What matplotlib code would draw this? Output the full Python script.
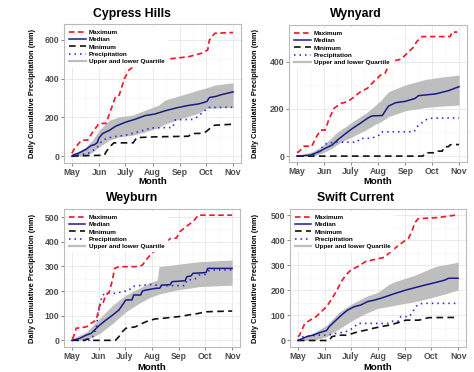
import matplotlib
matplotlib.use("Agg")
import matplotlib.pyplot as plt
from matplotlib.lines import Line2D
import numpy as np

# ---------------- data (day 0 = May 1) ----------------
month_days = [0, 31, 61, 92, 123, 153, 184]
month_labels = ["May", "Jun", "July", "Aug", "Sep", "Oct", "Nov"]
legend_labels = ["Maximum", "Median", "Minimum", "Precipitation", "Upper and lower Quartile"]

# Cypress Hills
cy_max_x = [0, 3, 11, 18, 24, 31, 39, 45, 50, 54, 60, 65, 75, 100, 106, 117, 133, 148, 155, 157, 163, 184]
cy_max_y = [15, 40, 83, 83, 126, 169, 169, 246, 310, 315, 401, 444, 480, 500, 500, 505, 513, 531, 548, 600, 634, 638]
cy_med_x = [0, 2, 7, 16, 22, 26, 29, 31, 35, 43, 50, 61, 73, 84, 95, 107, 120, 133, 145, 154, 157, 164, 171, 184]
cy_med_y = [0, 8, 14, 35, 55, 60, 70, 95, 117, 134, 155, 175, 192, 210, 218, 235, 250, 262, 270, 282, 303, 308, 318, 332]
cy_min_x = [0, 15, 37, 39, 43, 48, 70, 74, 95, 133, 137, 148, 153, 158, 163, 184]
cy_min_y = [0, 3, 5, 22, 48, 69, 69, 96, 100, 103, 117, 118, 126, 145, 160, 165]
cy_pre_x = [0, 10, 20, 28, 35, 46, 61, 76, 91, 115, 118, 138, 144, 150, 156, 184]
cy_pre_y = [0, 8, 18, 40, 83, 100, 108, 126, 146, 148, 188, 190, 205, 229, 252, 252]
cy_band_x = [0, 2, 16, 24, 31, 43, 54, 69, 84, 99, 106, 125, 144, 153, 163, 184]
cy_band_up = [5, 14, 47, 85, 134, 186, 203, 212, 238, 264, 289, 315, 341, 352, 367, 379]
cy_band_lo = [0, 0, 0, 22, 48, 83, 100, 108, 126, 148, 165, 195, 221, 246, 248, 253]

# Wynyard
wy_max_x = [0, 2, 8, 17, 21, 27, 32, 36, 42, 50, 57, 63, 72, 80, 87, 95, 100, 106, 118, 125, 132, 136, 142, 174, 176, 182]
wy_max_y = [15, 18, 42, 42, 75, 110, 110, 153, 202, 223, 230, 245, 272, 287, 315, 343, 350, 400, 410, 435, 460, 485, 506, 506, 525, 525]
wy_med_x = [0, 15, 25, 32, 40, 46, 53, 63, 72, 80, 85, 97, 100, 104, 112, 123, 134, 138, 157, 172, 184]
wy_med_y = [0, 4, 18, 33, 47, 68, 89, 117, 139, 160, 170, 172, 190, 212, 226, 232, 244, 256, 263, 277, 294]
wy_min_x = [0, 143, 146, 155, 157, 165, 167, 172, 174, 184]
wy_min_y = [0, 0, 14, 14, 21, 21, 39, 40, 48, 49]
wy_pre_x = [0, 12, 21, 29, 34, 44, 68, 72, 85, 90, 95, 97, 133, 136, 146, 150, 184]
wy_pre_y = [0, 0, 8, 39, 54, 59, 59, 75, 75, 85, 90, 103, 103, 124, 153, 160, 162]
wy_band_x = [0, 2, 17, 28, 32, 40, 44, 51, 55, 63, 66, 74, 78, 89, 95, 104, 123, 146, 165, 184]
wy_band_up = [0, 4, 18, 40, 54, 80, 96, 115, 124, 145, 153, 172, 181, 215, 235, 273, 301, 325, 335, 343]
wy_band_lo = [0, 0, 0, 11, 18, 33, 45, 61, 68, 82, 88, 103, 110, 135, 145, 167, 192, 206, 212, 216]

# Weyburn
we_max_x = [0, 1.5, 5, 17, 22, 28, 32, 35, 39, 43, 47, 49, 54, 73, 81, 85, 90, 100, 113, 120, 124, 131, 140, 145, 184]
we_max_y = [8, 10, 49, 55, 69, 82, 143, 143, 184, 197, 251, 292, 299, 299, 305, 326, 346, 380, 413, 415, 441, 461, 485, 508, 508]
we_med_x = [0, 3, 9, 17, 22, 28, 32, 39, 47, 54, 58, 62, 69, 71, 79, 81, 85, 96, 101, 103, 113, 115, 130, 132, 137, 139, 154, 156, 184]
we_med_y = [0, 2, 8, 22, 28, 49, 62, 82, 103, 123, 143, 164, 164, 184, 184, 200, 204, 211, 212, 224, 226, 238, 242, 258, 262, 272, 275, 292, 292]
we_min_x = [0, 15, 17, 20, 22, 50, 54, 58, 62, 73, 81, 88, 96, 103, 122, 134, 145, 154, 184]
we_min_y = [0, 0, 5, 5, 0, 0, 15, 35, 49, 55, 69, 80, 87, 89, 96, 103, 109, 116, 119]
we_pre_x = [0, 20, 24, 28, 30, 32, 35, 41, 50, 58, 66, 69, 81, 92, 100, 130, 132, 141, 146, 153, 158, 184]
we_pre_y = [0, 0, 15, 49, 103, 143, 184, 191, 191, 197, 204, 218, 224, 227, 222, 222, 245, 247, 265, 267, 285, 286]
we_band_x = [0, 1.5, 17, 32, 47, 62, 77, 90, 98, 100, 120, 146, 184]
we_band_up = [0, 8, 35, 89, 143, 184, 211, 235, 245, 299, 308, 319, 326]
we_band_lo = [0, 0, 0, 28, 69, 116, 150, 175, 185, 188, 204, 218, 224]

# Swift Current
sc_max_x = [0, 2, 8, 14, 21, 27, 33, 38, 44, 50, 55, 61, 69, 78, 90, 99, 110, 119, 127, 131, 134, 138, 150, 161, 184]
sc_max_y = [15, 21, 68, 81, 95, 115, 135, 161, 195, 235, 261, 281, 295, 315, 324, 331, 364, 388, 408, 435, 468, 485, 488, 490, 501]
sc_med_x = [0, 10, 17, 25, 33, 36, 42, 50, 57, 65, 72, 80, 88, 95, 101, 112, 124, 135, 146, 158, 169, 173, 184]
sc_med_y = [0, 15, 21, 31, 40, 55, 75, 101, 121, 135, 141, 155, 161, 168, 175, 188, 201, 211, 221, 231, 241, 248, 248]
sc_min_x = [0, 36, 39, 46, 55, 63, 69, 78, 86, 95, 105, 116, 124, 139, 150, 184]
sc_min_y = [0, 0, 15, 21, 21, 28, 35, 41, 48, 55, 61, 72, 81, 81, 91, 92]
sc_pre_x = [0, 6, 21, 33, 44, 55, 63, 69, 105, 109, 116, 118, 128, 133, 137, 143, 184]
sc_pre_y = [0, 15, 21, 21, 28, 35, 48, 68, 68, 77, 77, 95, 95, 121, 141, 148, 148]
sc_band_x = [0, 2, 17, 33, 48, 63, 78, 92, 105, 112, 135, 158, 184]
sc_band_up = [0, 3, 28, 61, 115, 148, 175, 192, 225, 235, 261, 295, 312]
sc_band_lo = [0, 0, 0, 15, 48, 81, 108, 128, 136, 141, 155, 175, 201]

# ---------------- styling ----------------
C_MAX = "#EE1C2E"
C_MED = "#1A1A8A"
C_MIN = "#111111"
C_PRE = "#2B2BD8"
C_BAND = "#BEBEBE"
TICK_C = "#4D4D4D"
FONT = "Liberation Sans"

plt.rcParams["font.family"] = [FONT, "DejaVu Sans"]

fig = plt.figure(figsize=(4.74, 3.72), dpi=100)
W, H = 474.0, 372.0


def ax_rect(l, r, t, b):
    return [l / W, 1 - b / H, (r - l) / W, (b - t) / H]


panels = [
    dict(title="Cypress Hills", rect=ax_rect(64, 241, 24, 163), tpos=(132, 14), ylab_x=33, xlab_y=182,
         ylim=(-35, 682), yticks=[0, 200, 400, 600], yminor=[100, 300, 500],
         band=(cy_band_x, cy_band_up, cy_band_lo), mx=(cy_max_x, cy_max_y), md=(cy_med_x, cy_med_y),
         mn=(cy_min_x, cy_min_y), pr=(cy_pre_x, cy_pre_y)),
    dict(title="Wynyard", rect=ax_rect(289, 467, 25, 162), tpos=(356, 14), ylab_x=256, xlab_y=182,
         ylim=(-25, 555), yticks=[0, 200, 400], yminor=[100, 300, 500],
         band=(wy_band_x, wy_band_up, wy_band_lo), mx=(wy_max_x, wy_max_y), md=(wy_med_x, wy_med_y),
         mn=(wy_min_x, wy_min_y), pr=(wy_pre_x, wy_pre_y)),
    dict(title="Weyburn", rect=ax_rect(64, 240, 209, 347), tpos=(132, 198), ylab_x=33, xlab_y=367,
         ylim=(-27, 533), yticks=[0, 100, 200, 300, 400, 500], yminor=[50, 150, 250, 350, 450],
         band=(we_band_x, we_band_up, we_band_lo), mx=(we_max_x, we_max_y), md=(we_med_x, we_med_y),
         mn=(we_min_x, we_min_y), pr=(we_pre_x, we_pre_y)),
    dict(title="Swift Current", rect=ax_rect(290, 466, 209, 347), tpos=(356, 198), ylab_x=256, xlab_y=367,
         ylim=(-26, 524), yticks=[0, 100, 200, 300, 400, 500], yminor=[50, 150, 250, 350, 450],
         band=(sc_band_x, sc_band_up, sc_band_lo), mx=(sc_max_x, sc_max_y), md=(sc_med_x, sc_med_y),
         mn=(sc_min_x, sc_min_y), pr=(sc_pre_x, sc_pre_y)),
]

max_style = dict(color=C_MAX, lw=1.25, dashes=(3.2, 2.0), dash_capstyle="butt")
med_style = dict(color=C_MED, lw=1.1)
min_style = dict(color=C_MIN, lw=1.2, dashes=(4.0, 2.6), dash_capstyle="butt")
pre_style = dict(color=C_PRE, lw=1.2, dashes=(0.9, 2.4), dash_capstyle="butt")

for p in panels:
    ax = fig.add_axes(p["rect"])
    ax.set_facecolor("white")
    bx, bu, bl = p["band"]
    ax.fill_between(bx, bl, bu, color=C_BAND, lw=0, zorder=2)
    ax.plot(*p["pr"], zorder=3, **pre_style)
    ax.plot(*p["mn"], zorder=3, **min_style)
    ax.plot(*p["md"], zorder=4, **med_style)
    ax.plot(*p["mx"], zorder=4, **max_style)

    ax.set_xlim(-9, 193)
    ax.set_ylim(*p["ylim"])
    ax.set_xticks(month_days)
    ax.set_xticklabels(month_labels)
    ax.set_xticks([(a + b) / 2 for a, b in zip(month_days[:-1], month_days[1:])], minor=True)
    ax.set_yticks(p["yticks"])
    ax.set_yticks(p["yminor"], minor=True)
    ax.grid(True, which="major", color="#E6E6E6", lw=0.6, zorder=0)
    ax.grid(True, which="minor", color="#F3F3F3", lw=0.4, zorder=0)
    ax.set_axisbelow(True)
    ax.tick_params(which="major", length=2, width=0.5, color="#555555", pad=1.5,
                   labelsize=6.2, labelcolor=TICK_C)
    ax.tick_params(which="minor", length=0)
    for lab in ax.get_xticklabels() + ax.get_yticklabels():
        lab.set_fontweight("bold")
    for s in ax.spines.values():
        s.set_color("#BBBBBB")
        s.set_linewidth(0.8)

    handles = [
        Line2D([], [], **max_style),
        Line2D([], [], **med_style),
        Line2D([], [], **min_style),
        Line2D([], [], **pre_style),
        Line2D([], [], color=C_BAND, lw=1.6),
    ]
    leg = ax.legend(handles, legend_labels, loc="upper left", bbox_to_anchor=(0.015, 0.975),
                    borderaxespad=0, borderpad=0.35, frameon=True, framealpha=1,
                    edgecolor="white", facecolor="white", fancybox=False,
                    prop=dict(family=FONT, weight="bold", size=4.6),
                    handlelength=2.6, handletextpad=0.5, labelspacing=0.28)
    leg.set_zorder(6)

    cx = (p["rect"][0] + p["rect"][2] / 2)
    cy = (p["rect"][1] + p["rect"][3] / 2)
    fig.text(p["tpos"][0] / W, 1 - p["tpos"][1] / H, p["title"], ha="center", va="center",
             fontsize=8.8, fontweight="bold", color="black")
    fig.text(p["ylab_x"] / W, cy, "Daily Cumulative Precipitation (mm)", rotation=90,
             ha="center", va="center", fontsize=5.4, fontweight="bold",
             family=["Liberation Sans Narrow", FONT, "DejaVu Sans"], color="black")
    fig.text(cx, 1 - p["xlab_y"] / H, "Month", ha="center", va="center",
             fontsize=6.8, fontweight="bold", color="black")

fig.savefig("out.png", dpi=100, facecolor="white")
